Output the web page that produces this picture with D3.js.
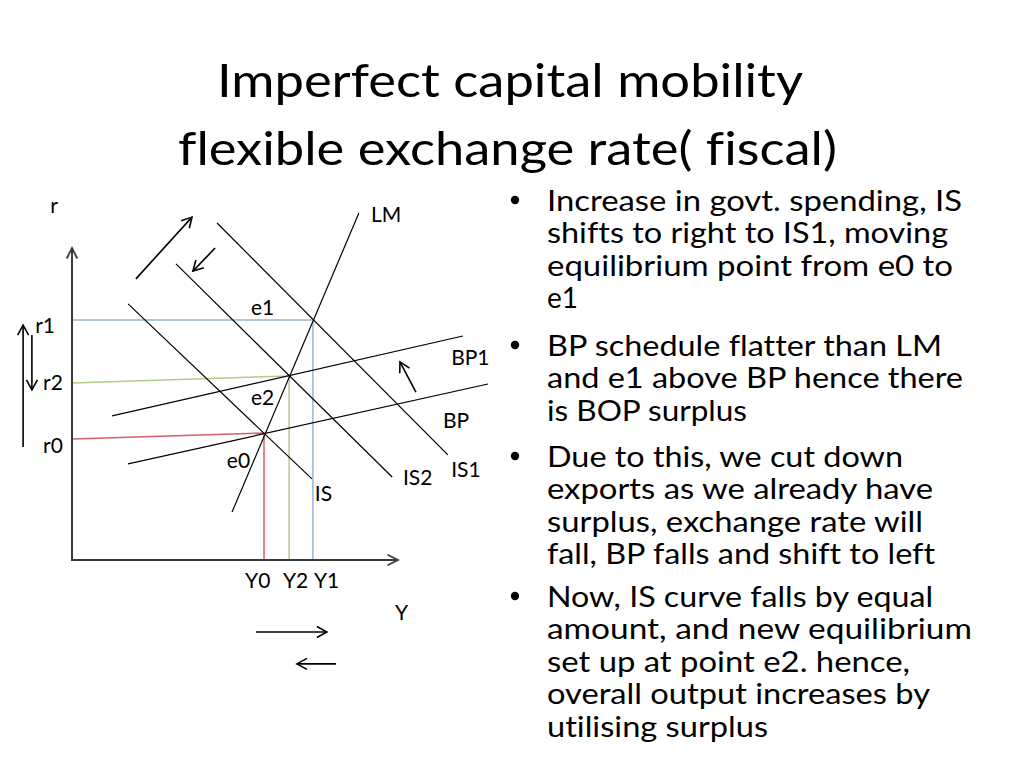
<!DOCTYPE html>
<html><head><meta charset="utf-8">
<script src="https://cdn.jsdelivr.net/npm/d3@7"></script>
<style>html,body{margin:0;padding:0;background:#fff;} svg{display:block;} text{font-variant-ligatures:none;font-feature-settings:"liga" 0,"clig" 0;}</style>
</head><body><div id="chart"></div>
<script>
// ---------- data ----------
const titleLines = ["Imperfect capital mobility", "flexible exchange rate( fiscal)"];

// schedules (straight lines) in model units: output (x) and interest rate (y)
const curveNames = ["LM", "IS", "IS2", "IS1", "BP1", "BP"];
const curveX1 = [49.1, 17.2, 31.9, 44.5, 12.3, 17.2];
const curveY1 = [15.4, 82.1, 94.9, 108.0, 46.2, 30.8];
const curveX2 = [88.0, 73.6, 98.2, 115.3, 119.9, 127.6];
const curveY2 = [111.2, 26.0, 26.6, 33.7, 71.8, 56.4];

// equilibria
const eqNames = ["e0", "e2", "e1"];
const eqOutput = [58.9, 66.6, 73.9];
const eqRate = [40.7, 59.0, 76.9];
const eqRateAtAxis = [38.8, 56.7, 76.9];
const rateLabels = ["r0", "r2", "r1"];
const outputLabels = ["Y0", "Y2", "Y1"];

// shift arrows (from -> to) in model units
const arrowX1 = [19.6, 43.9, -15.0, -12.3, 105.5, 56.4, 81.0];
const arrowY1 = [90.1, 100.0, 36.2, 72.1, 53.8, -23.1, -33.3];
const arrowX2 = [36.8, 37.1, -15.0, -12.3, 100.6, 78.2, 69.0];
const arrowY2 = [109.9, 92.6, 75.3, 54.5, 63.5, -23.1, -33.3];

const bullets = [
  ["Increase in govt. spending, IS", "shifts to right to IS1, moving", "equilibrium point from e0 to", "e1"],
  ["BP schedule flatter than LM", "and e1 above BP hence there", "is BOP surplus"],
  ["Due to this, we cut down", "exports as we already have", "surplus, exchange rate will", "fall, BP falls and shift to left"],
  ["Now, IS curve falls by equal", "amount, and new equilibrium", "set up at point e2. hence,", "overall output increases by", "utilising surplus"]
];

// ---------- layout / styles ----------
const W = 1024, H = 768;
const FONT = "Lato, 'Open Sans', sans-serif";
const guideColors = ["#d9606a", "#b0cc88", "#9db3cc"];
const bulletWidths = [[415, 401, 406, 31], [395, 416, 200], [356, 386, 376, 388], [386, 425, 363, 383, 221]];
const bulletFirstBase = [211, 356, 467, 607];
const lineGap = 32.4;
const titleWidths = [586, 659];
const titleCenters = [510, 507.5];
const titleBase = [97, 165];

// label anchors in model units (start x, baseline y)
const labelText = ["r", "LM", "e1", "BP1", "e2", "BP", "e0", "IS2", "IS1", "IS", "Y0", "Y2", "Y1", "Y", "r1", "r2", "r0"];
const labelX = [-6.7, 91.7, 54.9, 116.3, 54.9, 113.8, 47.5, 101.5, 116.3, 74.5, 53.1, 64.7, 74.2, 99.1, -11.3, -8.9, -8.9];
const labelY = [111.2, 108.3, 78.5, 62.5, 49.7, 42.3, 29.5, 24.0, 26.6, 18.9, -9.0, -9.0, -9.0, -19.2, 72.8, 54.5, 34.3];

const svg = d3.select("#chart").append("svg").attr("width", W).attr("height", H);
svg.append("rect").attr("width", W).attr("height", H).attr("fill", "#fff");

const x = d3.scaleLinear().domain([0, 100]).range([72, 398]);
const y = d3.scaleLinear().domain([0, 100]).range([560, 248]);

function head(x1, y1, x2, y2, len, half) {
  const a = Math.atan2(y2 - y1, x2 - x1);
  const bx = x2 - len * Math.cos(a), by = y2 - len * Math.sin(a);
  const nx = -Math.sin(a) * half, ny = Math.cos(a) * half;
  return `M${bx + nx},${by + ny}L${x2},${y2}L${bx - nx},${by - ny}`;
}

// title
svg.selectAll("text.title").data(titleLines).join("text")
  .attr("class", "title")
  .attr("x", (d, i) => titleCenters[i]).attr("y", (d, i) => titleBase[i])
  .attr("text-anchor", "middle")
  .attr("font-family", FONT).attr("font-size", 47).attr("fill", "#000")
  .attr("textLength", (d, i) => titleWidths[i]).attr("lengthAdjust", "spacingAndGlyphs")
  .text(d => d);

const g = svg.append("g");

// guide lines
eqNames.forEach((n, i) => {
  g.append("path")
    .attr("d", `M${x(0)},${y(eqRateAtAxis[i])}L${x(eqOutput[i])},${y(eqRate[i])}L${x(eqOutput[i])},${y(0)}`)
    .attr("fill", "none").attr("stroke", guideColors[i]).attr("stroke-width", 1.5);
});

// schedules
g.selectAll("line.curve").data(curveNames).join("line")
  .attr("class", "curve")
  .attr("x1", (d, i) => x(curveX1[i])).attr("y1", (d, i) => y(curveY1[i]))
  .attr("x2", (d, i) => x(curveX2[i])).attr("y2", (d, i) => y(curveY2[i]))
  .attr("stroke", "#000").attr("stroke-width", 1.2);

// axes
const axisColor = "#3a3a3a";
g.append("path").attr("d", `M${x(0)},${y(100)}L${x(0)},${y(0)}L${x(100)},${y(0)}`)
  .attr("fill", "none").attr("stroke", axisColor).attr("stroke-width", 2);
g.append("path").attr("d", head(x(0), y(0), x(0), y(100), 10.5, 5.3))
  .attr("fill", "none").attr("stroke", axisColor).attr("stroke-width", 1.8);
g.append("path").attr("d", head(x(0), y(0), x(100), y(0), 10.5, 5.3))
  .attr("fill", "none").attr("stroke", axisColor).attr("stroke-width", 1.8);

// shift arrows
arrowX1.forEach((v, i) => {
  const px1 = x(arrowX1[i]), py1 = y(arrowY1[i]), px2 = x(arrowX2[i]), py2 = y(arrowY2[i]);
  g.append("line").attr("x1", px1).attr("y1", py1).attr("x2", px2).attr("y2", py2)
    .attr("stroke", "#000").attr("stroke-width", 1.6);
  g.append("path").attr("d", head(px1, py1, px2, py2, 10, 5.5))
    .attr("fill", "none").attr("stroke", "#000").attr("stroke-width", 1.6);
});

// labels
g.selectAll("text.lab").data(labelText).join("text")
  .attr("class", "lab")
  .attr("x", (d, i) => x(labelX[i])).attr("y", (d, i) => y(labelY[i]))
  .attr("font-family", FONT).attr("font-size", 21).attr("fill", "#000")
  .text(d => d);

// bullets
const bx = 547;
bullets.forEach((lines, bi) => {
  const base = bulletFirstBase[bi];
  svg.append("circle").attr("cx", 515).attr("cy", base - 11).attr("r", 4.2).attr("fill", "#000");
  lines.forEach((t, li) => {
    svg.append("text").attr("x", bx).attr("y", base + li * lineGap)
      .attr("font-family", FONT).attr("font-size", 29).attr("fill", "#000")
      .attr("textLength", bulletWidths[bi][li]).attr("lengthAdjust", "spacingAndGlyphs")
      .text(t);
  });
});
</script>
</body></html>
